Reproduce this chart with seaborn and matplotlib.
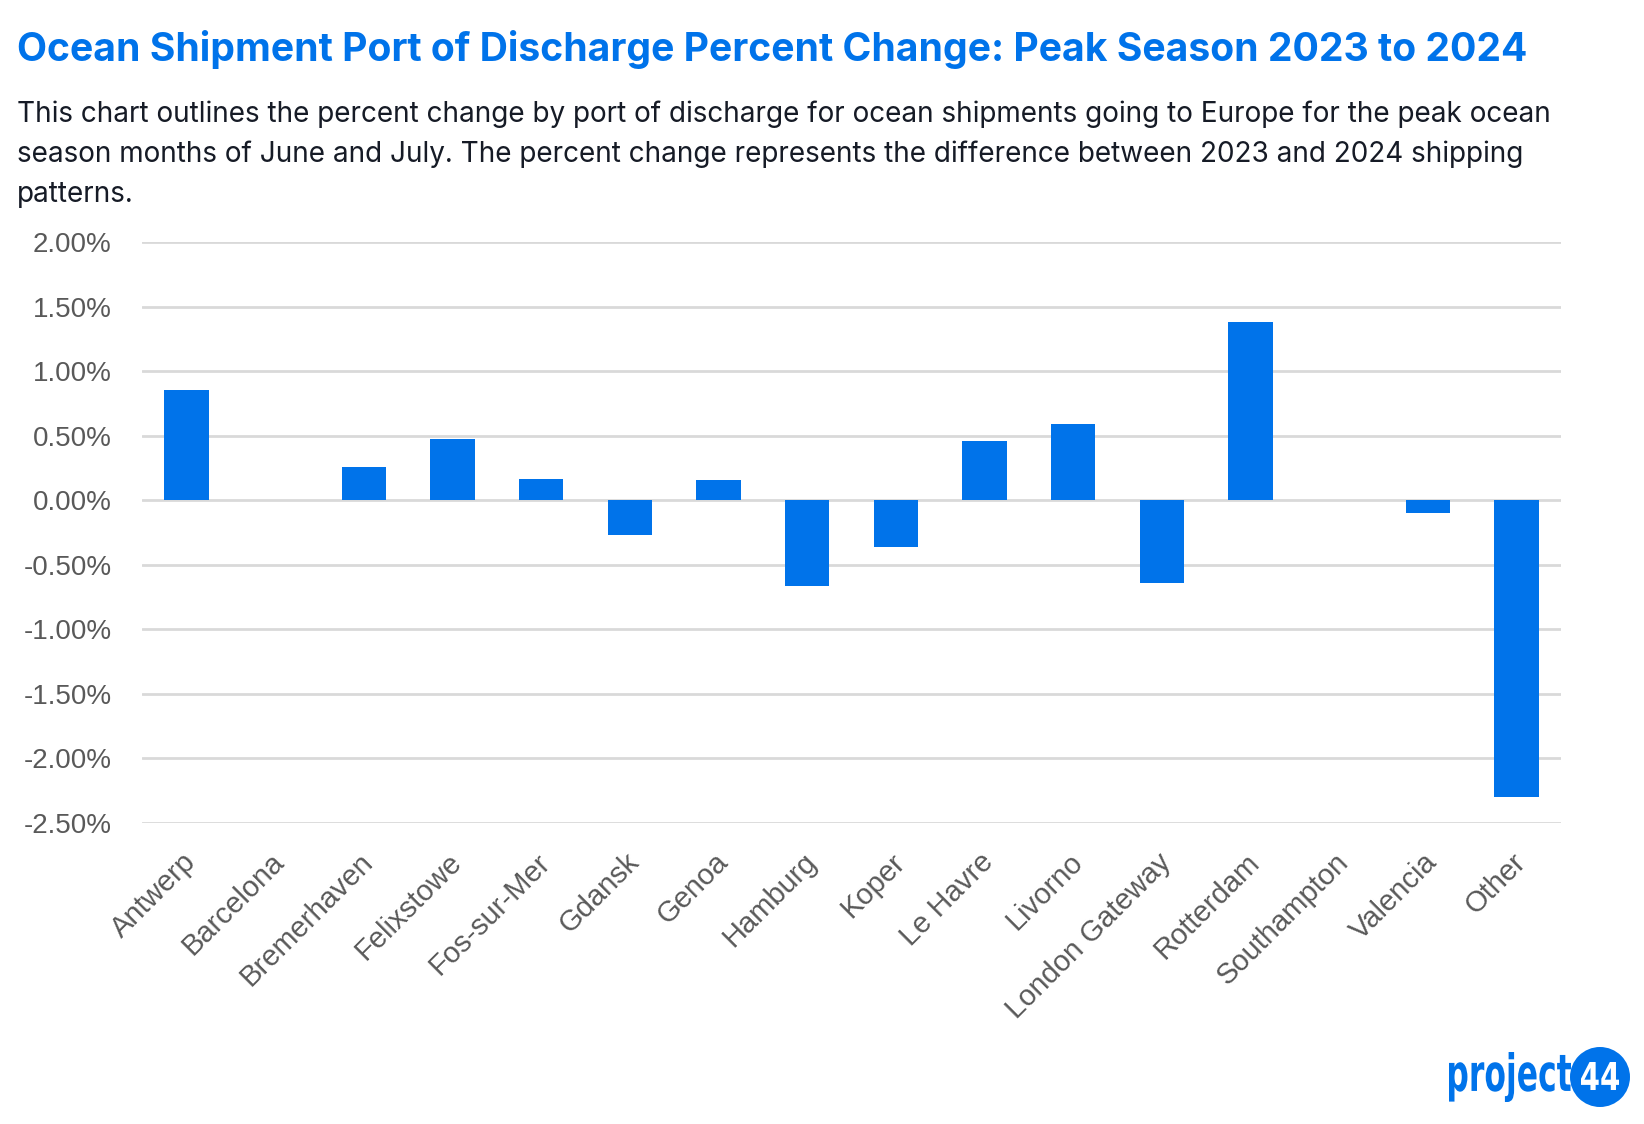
import matplotlib
matplotlib.use('Agg')
import matplotlib.pyplot as plt
import numpy as np
import pandas as pd
import seaborn as sns
from matplotlib.patches import Circle, PathPatch
from matplotlib.textpath import TextPath
from matplotlib.font_manager import FontProperties
from matplotlib.transforms import Affine2D, ScaledTranslation
from matplotlib.ticker import FuncFormatter

# data (percent change, 2023 -> 2024)
ports = ['Antwerp', 'Barcelona', 'Bremerhaven', 'Felixstowe', 'Fos-sur-Mer', 'Gdansk',
         'Genoa', 'Hamburg', 'Koper', 'Le Havre', 'Livorno', 'London Gateway',
         'Rotterdam', 'Southampton', 'Valencia', 'Other']
pct_change = [0.86, 0.0, 0.26, 0.48, 0.17, -0.27,
              0.16, -0.66, -0.36, 0.46, 0.59, -0.64,
              1.38, 0.0, -0.10, -2.30]
y_ticks = [2.0, 1.5, 1.0, 0.5, 0.0, -0.5, -1.0, -1.5, -2.0, -2.5]

title = 'Ocean Shipment Port of Discharge Percent Change: Peak Season 2023 to 2024'
subtitle_lines = [
    'This chart outlines the percent change by port of discharge for ocean shipments going to Europe for the peak ocean',
    'season months of June and July. The percent change represents the difference between 2023 and 2024 shipping',
    'patterns.',
]

BLUE = '#0073EA'
GRID = '#D9D9D9'
TICK = '#595959'

sns.set_theme(style='white')
plt.rcParams['font.family'] = ['Liberation Sans', 'DejaVu Sans']

df = pd.DataFrame({'port': ports, 'change': pct_change})

fig = plt.figure(figsize=(16.44, 11.24), dpi=100)
ax = fig.add_axes([0.0864, 0.2678, 0.9495 - 0.0864, 0.7843 - 0.2678])

# gridlines first so bars sit on top
for t in y_ticks:
    ax.axhline(t, color=GRID, linewidth=2, zorder=0)

sns.barplot(data=df, x='port', y='change', color=BLUE, saturation=1,
            width=0.5, linewidth=0, ax=ax, zorder=2)

ax.set_ylim(-2.5, 2.0)
ax.set_xlim(-0.5, len(ports) - 0.5)
ax.set_yticks(y_ticks)
ax.yaxis.set_major_formatter(FuncFormatter(lambda v, p: '{:.2f}%'.format(v)))
ax.set_xlabel('')
ax.set_ylabel('')
for s in ax.spines.values():
    s.set_visible(False)
ax.tick_params(axis='y', length=0, pad=22, labelsize=20, labelcolor=TICK)
ax.tick_params(axis='x', length=0, pad=18, labelsize=21, labelcolor=TICK)
shift = ScaledTranslation(-5 / 100, 0, fig.dpi_scale_trans)
for label in ax.get_xticklabels():
    label.set_rotation(45)
    label.set_horizontalalignment('right')
    label.set_rotation_mode('anchor')
    label.set_transform(label.get_transform() + shift)

# title and description
fig.text(0.0103, 1 - 61 / 1124, title, fontsize=28.2, fontweight='bold',
         color=BLUE, family=['Inter', 'DejaVu Sans'], va='baseline')
for i, line in enumerate(subtitle_lines):
    fig.text(0.0103, 1 - (122 + 40 * i) / 1124, line, fontsize=20.1,
             color='#161B26', family=['Inter', 'DejaVu Sans'], va='baseline')


# logo: "project" + "44" in a circle (drawn in pixel coords)
def fit_text(s, x0, x1, y0, y1, color, weight='bold'):
    tp = TextPath((0, 0), s, size=100,
                  prop=FontProperties(family='DejaVu Sans', weight=weight))
    ext = tp.get_extents()
    tr = (Affine2D().translate(-ext.x0, -ext.y0)
          .scale((x1 - x0) / ext.width, (y1 - y0) / ext.height)
          .translate(x0, y0))
    patch = PathPatch(tr.transform_path(tp), facecolor=color, edgecolor='none',
                      transform=None)
    fig.patches.append(patch)


H = 1124
fig.patches.append(Circle((1600, H - 1077), 30, facecolor=BLUE, edgecolor='none',
                          transform=None))
fit_text('project', 1449, 1571, H - 1102, H - 1052, BLUE)
fit_text('44', 1581, 1619, H - 1090, H - 1062, 'white')

fig.savefig('out.png', dpi=100)
